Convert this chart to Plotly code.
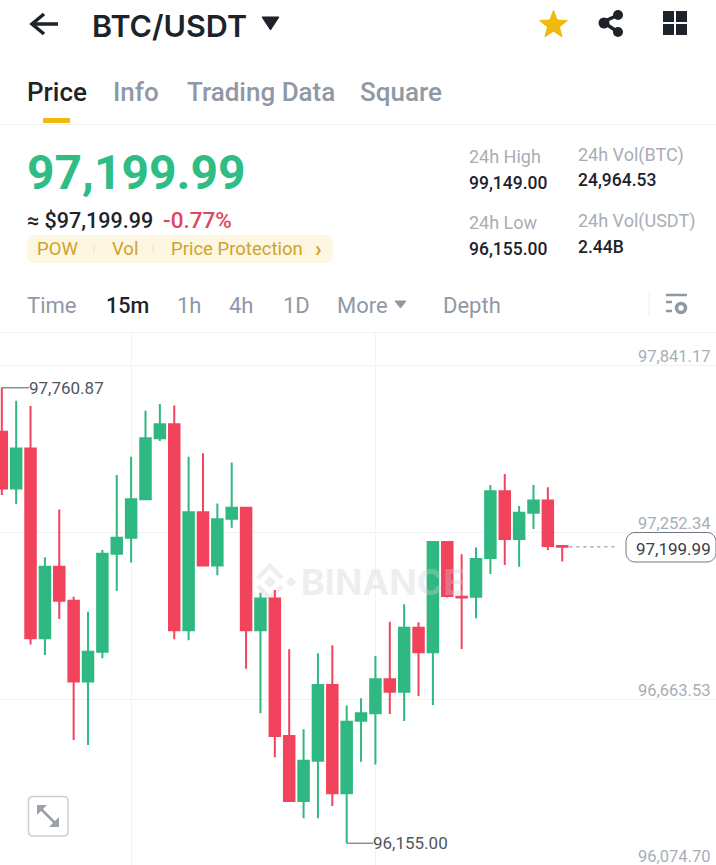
import math
import plotly.graph_objects as go

# Candles (oldest first)
candle_idx = list(range(40))
opens = [97606, 97406, 97547, 96878, 97130, 97010, 96725, 96830, 97176, 97232,
         97368, 97583, 97632, 96906, 97322, 97134, 97299, 97338, 96906, 97018,
         96533, 96304, 96446, 96713, 96331, 96587, 96613, 96733, 96689, 96915,
         96828, 97217, 97024, 97024, 97161, 97396, 97228, 97320, 97363, 97203]
highs = [97760.87, 97715, 97697, 97163, 97332, 97024, 96971, 97189, 97453, 97518,
         97680, 97704, 97698, 97518, 97530, 97353, 97497, 97338, 97038, 97048,
         96839, 96557, 96825, 96853, 96641, 96666, 96815, 96936, 96998, 96934,
         97217, 97217, 97174, 97198, 97418, 97457, 97344, 97418, 97410, 97203]
lows = [97383, 97351, 96856, 96819, 96946, 96519, 96501, 96807, 97044, 97145,
        97368, 97573, 96874, 96871, 97133, 97100, 97267, 96770, 96613, 96458,
        96304, 96243, 96243, 96286, 96155.00, 96442, 96433, 96611, 96586, 96674,
        96642, 97021, 96840, 96948, 97104, 97136, 97130, 97263, 97189, 97148]
closes = [97406, 97547, 96878, 97130, 97010, 96725, 96830, 97176, 97232, 97368,
          97583, 97632, 96906, 97322, 97134, 97297, 97338, 96906, 97018, 96533,
          96304, 96446, 96713, 96331, 96583, 96613, 96733, 96689, 96915, 96828,
          97217, 97027, 97021, 97157, 97396, 97228, 97320, 97363, 97203, 97199.99]

price_ticks = [97841.17, 97252.34, 96663.53, 96074.70]
tick_labels = ["97,841.17", "97,252.34", "96,663.53", "96,074.70"]
time_grid = [9, 26]
last_price = 97199.99
high_price = 97760.87
low_price = 96155.00

W, H = 716, 865
GREEN = "#2EBD85"
CANDLE_GREEN = "#2FB881"
RED = "#F2435C"
DARK = "#1E2329"
GRAY = "#8F98A5"
LIGHT = "#A8AEB7"
GOLD = "#CFA32E"
FONT = "Roboto"

# pixel scale of the price pane
STEP = 14.37
PER_PX = 3.5259
LEFT_PAD = 1.8
top_px, bottom_px = 333, H
y_min = price_ticks[1] - (bottom_px - 532) * PER_PX
y_max = price_ticks[1] + (532 - top_px) * PER_PX


def px(x):
    return x / W


def py(y):
    return 1 - y / H


fig = go.Figure()
fig.add_trace(go.Candlestick(
    x=candle_idx, open=opens, high=highs, low=lows, close=closes,
    increasing=dict(line=dict(color=CANDLE_GREEN, width=2), fillcolor=CANDLE_GREEN),
    decreasing=dict(line=dict(color=RED, width=2), fillcolor=RED),
    whiskerwidth=0, hoverinfo="skip", showlegend=False,
))


def text(s, x, y, size, color, weight=400, anchor="left", xref="paper", yref="paper", family=FONT):
    fig.add_annotation(
        text=s, x=px(x) if xref == "paper" else x, y=py(y) if yref == "paper" else y,
        xref=xref, yref=yref, xanchor=anchor, yanchor="middle", showarrow=False,
        font=dict(family=family, size=size, color=color, weight=weight),
        borderpad=0, borderwidth=0,
    )


def line(x0, y0, x1, y1, color, width=1, dash="solid", xref="paper", yref="paper"):
    if xref == "paper":
        x0, x1 = px(x0), px(x1)
    if yref == "paper":
        y0, y1 = py(y0), py(y1)
    fig.add_shape(type="line", x0=x0, y0=y0, x1=x1, y1=y1, xref=xref, yref=yref,
                  line=dict(color=color, width=width, dash=dash))


def poly(points, fill=None, stroke=None, width=0, layer="above"):
    path = "M " + " L ".join(f"{px(a):.5f},{py(b):.5f}" for a, b in points) + (" Z" if fill else "")
    fig.add_shape(type="path", path=path, xref="paper", yref="paper", layer=layer,
                  fillcolor=fill if fill else "rgba(0,0,0,0)",
                  line=dict(color=stroke if stroke else "rgba(0,0,0,0)", width=width))


def rrect(x0, y0, x1, y1, r, fill=None, stroke=None, width=0, layer="above"):
    pts = []
    corners = [(x1 - r, y0 + r, -90), (x1 - r, y1 - r, 0), (x0 + r, y1 - r, 90), (x0 + r, y0 + r, 180)]
    for cx, cy, start in corners:
        for k in range(7):
            a = math.radians(start + k * 15)
            pts.append((cx + r * math.cos(a), cy + r * math.sin(a)))
    pts.append(pts[0])
    poly(pts, fill or "rgba(0,0,0,0)", stroke, width, layer)


def dot(cx, cy, r, fill=None, stroke=None, width=0):
    fig.add_shape(type="circle", x0=px(cx - r), x1=px(cx + r), y0=py(cy - r), y1=py(cy + r),
                  xref="paper", yref="paper", fillcolor=fill if fill else "rgba(0,0,0,0)",
                  line=dict(color=stroke if stroke else "rgba(0,0,0,0)", width=width))


# top bar
line(32, 24, 58, 24, DARK, 3.5)
poly([(44, 14), (32, 24), (44, 34)], None, DARK, 3.5)
text("BTC/USDT", 92, 25, 30.5, DARK, 600, family="Inter")
poly([(262, 17), (279, 17), (270.5, 30)], fill=DARK, stroke=DARK, width=1)
star = []
for k in range(10):
    r = 14.5 if k % 2 == 0 else 6.2
    a = math.radians(-90 + k * 36)
    star.append((553.5 + r * math.cos(a), 25 + r * math.sin(a)))
poly(star, fill="#F0B90B", stroke="#F0B90B", width=1)
line(603, 22, 618, 15, DARK, 3.5)
line(603, 22, 618, 32, DARK, 3.5)
dot(604, 23, 5.5, DARK)
dot(618, 15, 5, DARK)
dot(618, 32, 5, DARK)
for a, b in [(663, 11), (676, 11), (663, 24), (676, 24)]:
    poly([(a, b), (a + 11, b), (a + 11, b + 11), (a, b + 11)], fill=DARK)

# tabs
text("Price", 27, 92, 26, DARK, 500)
text("Info", 113, 92, 26, GRAY, 500)
text("Trading Data", 187, 92, 26, GRAY, 500)
text("Square", 360, 92, 26, GRAY, 500)
poly([(43, 118), (70, 118), (70, 123), (43, 123)], fill="#F0B90B")
line(0, 124.5, W, 124.5, "#EFF1F3", 1)

# price block
text("97,199.99", 27, 172, 48, GREEN, 700)
text("≈ $97,199.99", 27, 220, 21.5, DARK, 500)
text("-0.77%", 163, 220, 22.5, "#E2455F", 500)
rrect(27, 235, 333, 263, 7, fill="#FDF6E1")
text("POW", 37, 249, 18.5, GOLD)
text("Vol", 112, 249, 18.5, GOLD)
text("Price Protection", 171, 249, 18.5, GOLD)
text("›", 315, 248, 22, GOLD, 700)
line(94, 245, 94, 253, "#EFE3BC", 1)
line(153, 245, 153, 253, "#EFE3BC", 1)

# 24h stats
text("24h High", 469, 157, 18, LIGHT)
text("99,149.00", 469, 183, 17.5, DARK, 500)
text("24h Low", 469, 222.5, 18, LIGHT)
text("96,155.00", 469, 249, 17.5, DARK, 500)
text("24h Vol(BTC)", 578, 155, 18, LIGHT)
text("24,964.53", 578, 180, 17.5, DARK, 500)
text("24h Vol(USDT)", 578, 221, 18, LIGHT)
text("2.44B", 578, 247, 17.5, DARK, 500)

# interval row
text("Time", 27, 306, 22, GRAY)
text("15m", 106, 306, 21.5, DARK, 500)
text("1h", 177, 306, 22, GRAY)
text("4h", 229, 306, 22, GRAY)
text("1D", 283, 306, 22, GRAY)
text("More", 337, 306, 22, GRAY)
poly([(395, 301), (406, 301), (400.5, 308)], fill=GRAY, stroke=GRAY, width=1)
text("Depth", 443, 306, 22, GRAY)
line(649, 293, 649, 316, "#ECEEF0", 1)
line(666, 295, 687, 295, GRAY, 2.5)
line(666, 302, 672, 302, GRAY, 2.5)
line(666, 311, 672, 311, GRAY, 2.5)
dot(681, 308, 4.5, None, GRAY, 3.5)
line(0, 332.5, W, 332.5, "#EFF1F3", 1)

# watermark, below the candles
WM = "#EDEEF0"
poly([(258, 578), (270, 566), (282, 578)], None, WM, 4.5, layer="below")
poly([(258, 586), (270, 598), (282, 586)], None, WM, 4.5, layer="below")
poly([(270, 576), (276, 582), (270, 588), (264, 582)], fill=WM, layer="below")
poly([(249, 577), (254, 582), (249, 587), (244, 582)], fill=WM, layer="below")
poly([(291, 577), (296, 582), (291, 587), (286, 582)], fill=WM, layer="below")
text("BINANCE", 301, 582, 36, "rgba(205,208,212,0.35)", 700, family="Inter")

# price labels, sitting on top of their grid lines (the lowest one is off the pane)
for val, lab in zip(price_ticks, tick_labels):
    fig.add_annotation(text=lab, x=px(713), y=max(val, y_min), xref="paper", yref="y", xanchor="right",
                       yanchor="bottom", yshift=-3, showarrow=False,
                       font=dict(family=FONT, size=16.5, color=LIGHT))

# high / low callouts
line(0, high_price, 1.9, high_price, "#6F7680", 1.2, xref="x", yref="y")
text(f"{high_price:,.2f}", 1.9, high_price, 17, "#50565E", xref="x", yref="y")
line(24, low_price, 25.85, low_price, "#6F7680", 1.2, xref="x", yref="y")
text(f"{low_price:,.2f}", 25.85, low_price, 17, "#50565E", xref="x", yref="y")

# last price tag
line(39.5, last_price, 42.8, last_price, "#7A808A", 1, dash="3px,4px", xref="x", yref="y")
rrect(626, 532.5, 716, 562, 9, fill="#FFFFFF", stroke="#6F7680", width=1)
text(f"{last_price:,.2f}", 673, 549, 17, "#3A4048", anchor="center")

# expand button
rrect(28.5, 796.5, 68, 836, 4, stroke="#C9CDD2", width=1.5)
line(39, 807, 57, 825, "#9AA0AA", 2.5)
poly([(37, 815), (37, 805), (47, 805)], fill="#9AA0AA")
poly([(59, 817), (59, 827), (49, 827)], fill="#9AA0AA")

fig.update_layout(
    width=W, height=H, margin=dict(l=0, r=0, t=0, b=0),
    paper_bgcolor="white", plot_bgcolor="white", showlegend=False, boxgap=0.27, boxgroupgap=0,
    xaxis=dict(domain=[0, 1], range=[-LEFT_PAD / STEP, (W - LEFT_PAD) / STEP], tickvals=time_grid,
               showticklabels=False, showgrid=True, gridcolor="#F3F4F6", gridwidth=1, zeroline=False,
               showline=False, ticks="", rangeslider=dict(visible=False), fixedrange=True),
    yaxis=dict(domain=[0, py(top_px)], range=[y_min, y_max],
               tickvals=price_ticks, showticklabels=False, showgrid=True, gridcolor="#F1F2F4", gridwidth=1,
               zeroline=False, showline=False, ticks="", fixedrange=True),
)

# the page's default body margin would shift the whole figure
fig.write_html("out.html", config={"displayModeBar": False}, post_script="document.body.style.margin='0';")
